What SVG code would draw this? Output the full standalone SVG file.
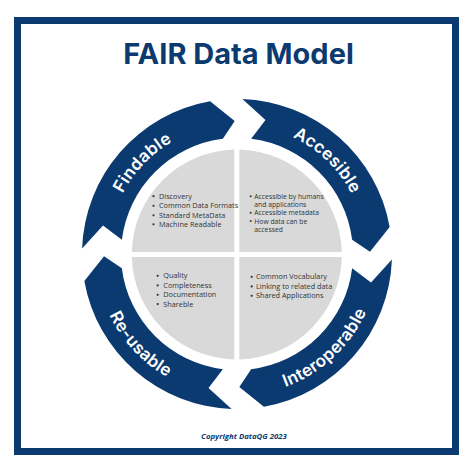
<svg xmlns="http://www.w3.org/2000/svg" width="474" height="474" viewBox="0 0 474 474">
  <style>
    .navy { fill: #0b3a70; }
    .quad { fill: #d9d9d9; }
    .label { font-family: Inter, "Liberation Sans", sans-serif; font-weight: 600; font-size: 17px; letter-spacing: 0.3px; fill: #ffffff; }
    .body { font-family: "Open Sans", "Liberation Sans", sans-serif; font-size: 7.3px; fill: #333333; }
    .small { font-size: 6.8px; }
    .dot { fill: #333333; }
  </style>
  <defs>
    <path id="pF" d="M107.82,244.97 A129.5,129.5 0 0 1 223.46,125.21"/>
    <path id="pA" d="M246.03,124.82 A129.5,129.5 0 0 1 365.79,240.46"/>
    <path id="pI" d="M244.41,395.31 A141.5,141.5 0 0 0 377.45,271.24"/>
    <path id="pR" d="M95.69,261.41 A141.5,141.5 0 0 0 219.76,394.45"/>
  </defs>
  <rect width="474" height="474" fill="#ffffff"/>
  <rect x="17.5" y="20.5" width="438" height="431" fill="none" stroke="#0b3a70" stroke-width="7"/>
  <text x="238.5" y="64" text-anchor="middle" font-family="Inter, 'Liberation Sans', sans-serif" font-weight="700" font-size="29" class="navy">FAIR Data Model</text>

  <g id="connectors">
    <g id="arrow-findable">
      <path class="navy" d="M82.10,248.59 A155,155 0 0 1 210.08,101.35 L234.68,121.02 L222.86,138.86 A116,116 0 0 0 121.86,239.86 L102.99,225.52 Z"/>
      <text class="label"><textPath href="#pF" startOffset="50%" text-anchor="middle">Findable</textPath></text>
    </g>
    <g id="arrow-accesible">
      <path class="navy" d="M242.41,99.10 A155,155 0 0 1 389.65,227.08 L369.98,251.68 L352.14,239.86 A116,116 0 0 0 251.14,138.86 L265.48,119.99 Z"/>
      <text class="label"><textPath href="#pA" startOffset="50%" text-anchor="middle">Accesible</textPath></text>
    </g>
    <g id="arrow-interoperable">
      <path class="navy" d="M391.91,259.41 A155,155 0 0 1 263.92,406.65 L239.32,386.98 L251.14,369.14 A116,116 0 0 0 352.14,268.14 L371.01,282.48 Z"/>
      <text class="label"><textPath href="#pI" startOffset="50%" text-anchor="middle">Interoperable</textPath></text>
    </g>
    <g id="arrow-reusable">
      <path class="navy" d="M231.59,408.91 A155,155 0 0 1 84.35,280.92 L104.02,256.32 L121.86,268.14 A116,116 0 0 0 222.86,369.14 L208.52,388.01 Z"/>
      <text class="label"><textPath href="#pR" startOffset="50%" text-anchor="middle">Re-usable</textPath></text>
    </g>
  </g>

  <g id="findable">
    <path class="quad" d="M234.3,252 L234.3,149.53 A105,105 0 0 0 131.83,252 Z"/>
    <circle class="dot" cx="153.5" cy="196.2" r="1.1"/>
    <circle class="dot" cx="153.5" cy="205.8" r="1.1"/>
    <circle class="dot" cx="153.5" cy="215.3" r="1.1"/>
    <circle class="dot" cx="153.5" cy="224.3" r="1.1"/>
    <text class="body" x="159" y="198.7">Discovery</text>
    <text class="body" x="159" y="208.3">Common Data Formats</text>
    <text class="body" x="159" y="217.8">Standard MetaData</text>
    <text class="body" x="159" y="226.8">Machine Readable</text>
  </g>
  <g id="accesible">
    <path class="quad" d="M239.3,252 L341.77,252 A105,105 0 0 0 239.3,149.53 Z"/>
    <circle class="dot" cx="250.7" cy="196.2" r="1"/>
    <circle class="dot" cx="250.7" cy="212.8" r="1"/>
    <circle class="dot" cx="250.7" cy="221.1" r="1"/>
    <text class="body small" x="254.3" y="198.5">Accessible by humans</text>
    <text class="body small" x="254.3" y="206.6">and applications</text>
    <text class="body small" x="254.3" y="215.2">Accessible metadata</text>
    <text class="body small" x="254.3" y="223.5">How data can be</text>
    <text class="body small" x="254.3" y="231.8">accessed</text>
  </g>
  <g id="reusable">
    <path class="quad" d="M234.3,257 L131.83,257 A105,105 0 0 0 234.3,359.47 Z"/>
    <circle class="dot" cx="157.7" cy="275.8" r="1.1"/>
    <circle class="dot" cx="157.7" cy="285.4" r="1.1"/>
    <circle class="dot" cx="157.7" cy="294.8" r="1.1"/>
    <circle class="dot" cx="157.7" cy="304.1" r="1.1"/>
    <text class="body" x="163.3" y="278.2">Quality</text>
    <text class="body" x="163.3" y="287.8">Completeness</text>
    <text class="body" x="163.3" y="297.2">Documentation</text>
    <text class="body" x="163.3" y="306.5">Shareble</text>
  </g>
  <g id="interoperable">
    <path class="quad" d="M239.3,257 L239.3,359.47 A105,105 0 0 0 341.77,257 Z"/>
    <circle class="dot" cx="251.7" cy="276.8" r="1.1"/>
    <circle class="dot" cx="251.7" cy="286.4" r="1.1"/>
    <circle class="dot" cx="251.7" cy="295.8" r="1.1"/>
    <text class="body" x="256" y="279.2">Common Vocabulary</text>
    <text class="body" x="256" y="288.8">Linking to related data</text>
    <text class="body" x="256" y="298.2">Shared Applications</text>
  </g>

  <text x="244" y="439" text-anchor="middle" font-family="'Open Sans', 'Liberation Sans', sans-serif" font-weight="700" font-style="italic" font-size="7.8" class="navy">Copyright DataQG 2023</text>
</svg>
